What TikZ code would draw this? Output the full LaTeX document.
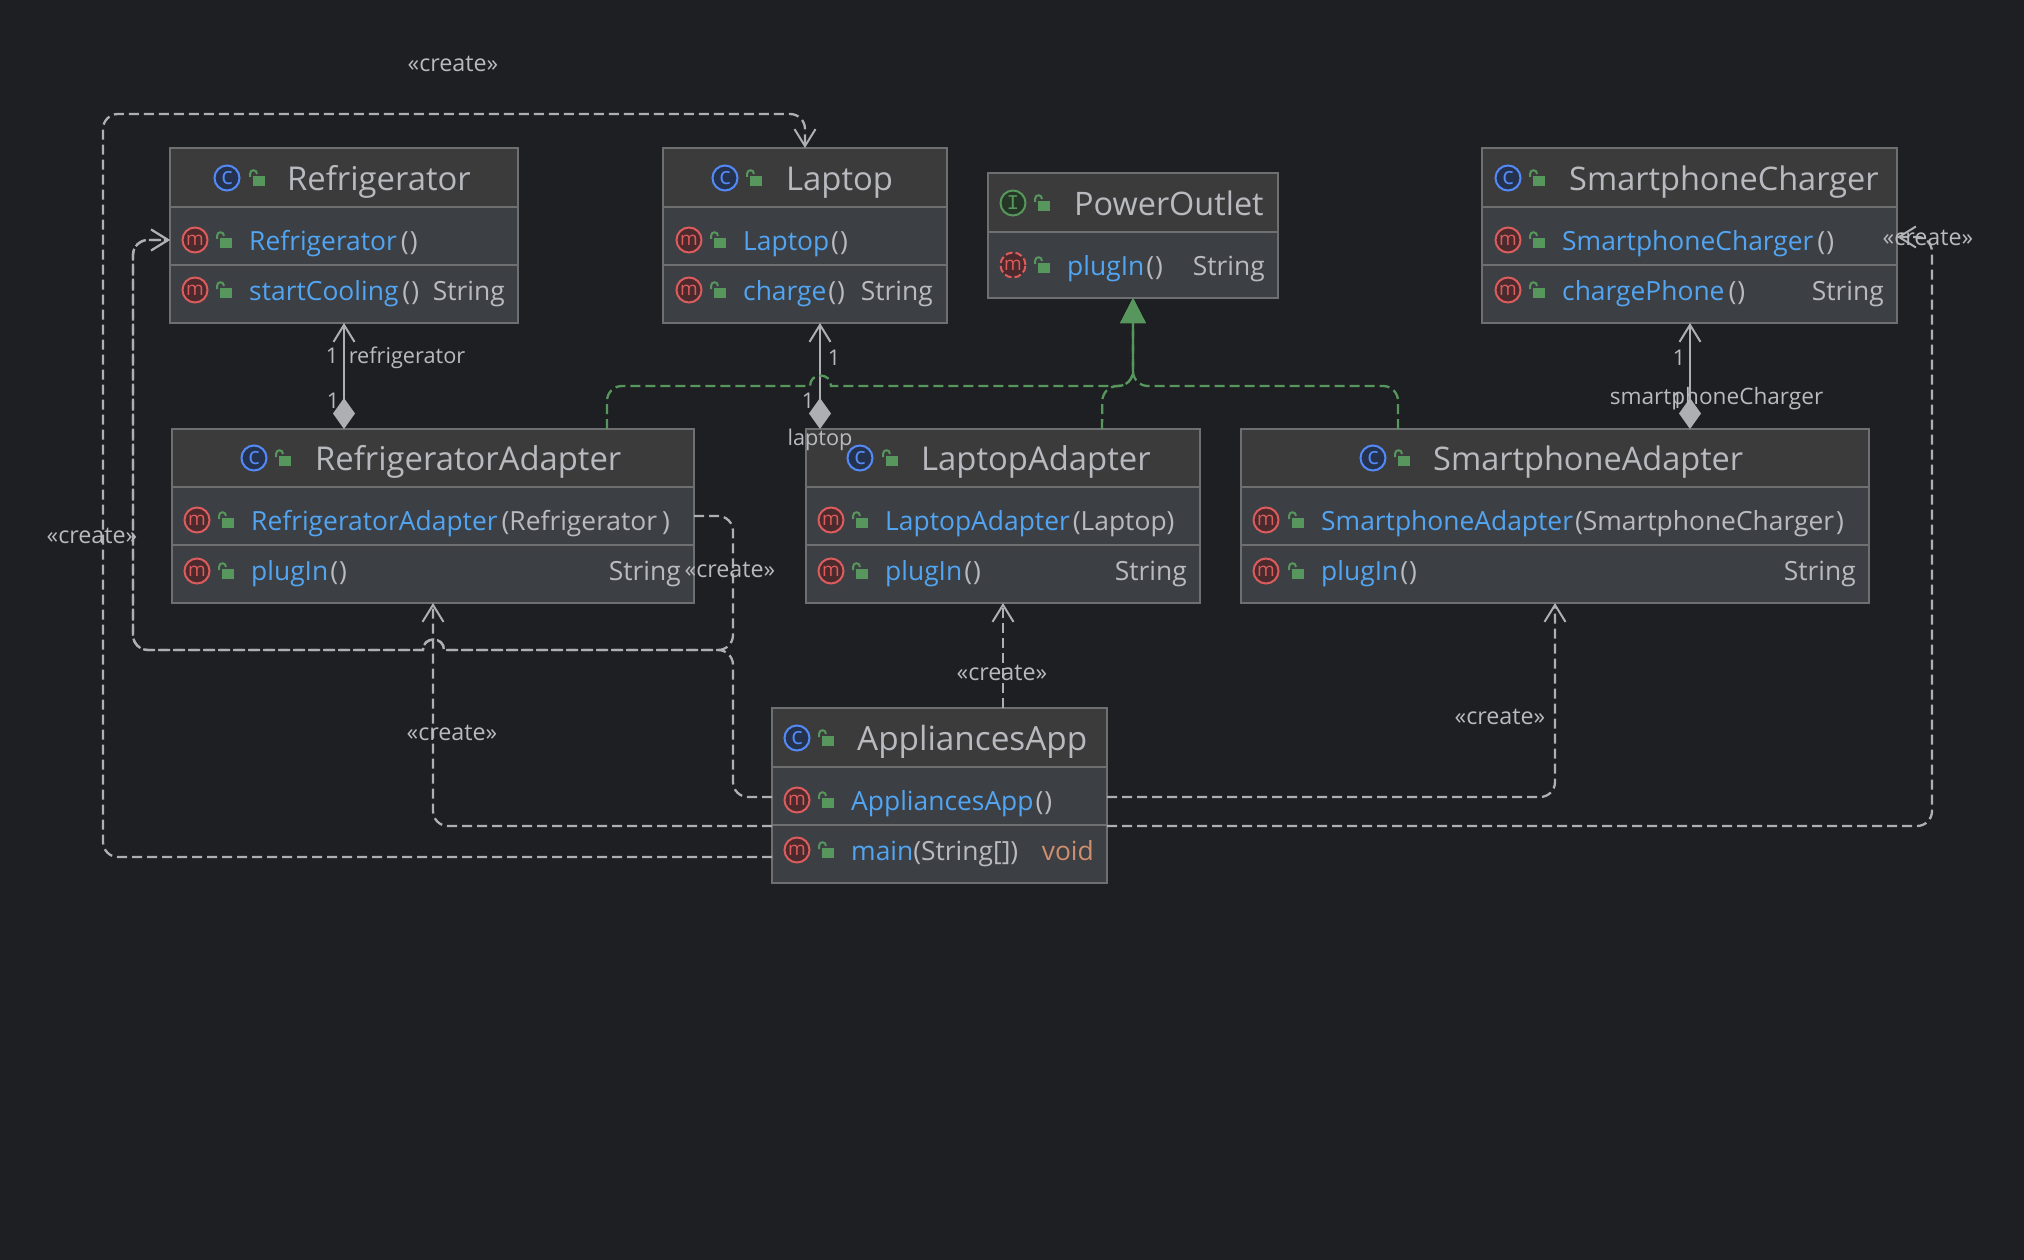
\documentclass[tikz,border=0pt]{standalone}
\usepackage{fontspec}
\setmainfont{Open Sans}
\newfontfamily\monoface{Liberation Mono}
\usetikzlibrary{arrows.meta}
\definecolor{bg}{HTML}{1E1F22}
\definecolor{hdr}{HTML}{3C3B3B}
\definecolor{body}{HTML}{3C3F43}
\definecolor{edge}{HTML}{6E6F71}
\definecolor{txt}{HTML}{B8BABF}
\definecolor{mblue}{HTML}{52A5F2}
\definecolor{kw}{HTML}{CF8E6D}
\definecolor{wire}{HTML}{ADAFB2}
\definecolor{leaf}{HTML}{57965C}
\definecolor{cblue}{HTML}{548AF7}
\definecolor{cbluef}{HTML}{25324D}
\definecolor{mred}{HTML}{DB5C5C}
\definecolor{mredf}{HTML}{4A2A2C}
\definecolor{ifill}{HTML}{253627}
\tikzset{
  umlbox/.style={draw=edge,fill=body,line width=2pt,inner sep=0pt,outer sep=0pt},
  sepline/.style={draw=edge,line width=2pt},
  ico/.style={circle,minimum size=25pt,inner sep=0pt,line width=2pt,font=\fontsize{19}{19}\selectfont},
  icoc/.style={ico,draw=cblue,fill=cbluef,text=cblue,font=\fontsize{24}{24}\selectfont},
  icom/.style={ico,draw=mred,fill=mredf,text=mred},
  icoma/.style={icom,dash pattern=on 7pt off 3pt},
  icoi/.style={ico,draw=leaf,fill=ifill,text=leaf,font=\fontsize{21}{21}\monoface},
  title/.style={anchor=base west,inner sep=0pt,text=txt,font=\fontsize{32.8}{32.8}\selectfont},
  member/.style={anchor=base west,inner sep=0pt,text=mblue,font=\fontsize{26.4}{26.4}\selectfont},
  rtype/.style={anchor=base east,inner sep=0pt,text=txt,font=\fontsize{26.4}{26.4}\selectfont},
  lab/.style={anchor=base,inner sep=0pt,text=txt,font=\fontsize{21.7}{21.7}\selectfont},
  stereo/.style={anchor=base,inner sep=0pt,text=txt,font=\fontsize{23.3}{23.3}\selectfont},
  create/.style={draw=wire,line width=2.3pt,dash pattern=on 10pt off 5pt,rounded corners=15pt,
    -{Straight Barb[length=17pt,width=21pt,line width=2pt]}},
  assoc/.style={draw=wire,line width=2.3pt,
    {Diamond[length=31pt,width=22pt,fill=wire]}-{Straight Barb[length=17pt,width=21pt,line width=2pt]}},
  realize/.style={draw=leaf,line width=2.3pt,dash pattern=on 10pt off 5pt,rounded corners=15pt,
    -{Triangle[length=25pt,width=25pt,fill=leaf]}},
}
\newcommand{\classbox}[6]{%
  \node[umlbox,minimum width={(#4-#2)*1pt},minimum height={(#5-#3)*1pt}] (#1) at ({(#2+#4)/2},{(#3+#5)/2}) {};
  \fill[hdr] (#2,#3) rectangle (#4,#6);
  \draw[sepline] (#2,#6) -- (#4,#6);
  \draw[draw=edge,line width=2pt] (#1.north west) rectangle (#1.south east);
}
\newcommand{\rowsep}[3]{\draw[sepline] (#1,#3) -- (#2,#3);}
\newcommand{\lockicon}[2]{%
  \fill[leaf] ({#1-5},{#2-2}) rectangle ({#1+7},{#2+8});
  \draw[leaf,line width=2pt] ({#1-8},{#2-1}) -- ({#1-8},{#2-4}) .. controls ({#1-8},{#2-9}) and ({#1-1},{#2-9}) .. ({#1-1},{#2-4});
}
% name, style, letter, icon x, lock x, y
\newcommand{\icons}[6]{\node[#2] (#1) at (#4,#6) {#3}; \lockicon{#5}{#6}}
\begin{document}
\begin{tikzpicture}[x=1pt,y=-1pt]
\path[use as bounding box,fill=bg] (0,0) rectangle (2024,1260);

% Refrigerator
\classbox{ref}{170}{148}{518}{323}{207}
\rowsep{170}{518}{265}
\icons{refI}{icoc}{c}{227}{258}{178}
\node[title] (refT) at (287,191) {Refrigerator};
\icons{refA}{icom}{m}{195}{225}{240}
\node[member] (refB) at (249,251) {Refrigerator\hspace{4pt}\textcolor{txt}{(\hspace{1pt})}};
\icons{refC}{icom}{m}{195}{225}{290}
\node[member] (refD) at (249,300) {startCooling\hspace{4pt}\textcolor{txt}{(\hspace{1pt})}};
\node[rtype] (refE) at (505,300) {String};

% Laptop
\classbox{lap}{663}{148}{947}{323}{207}
\rowsep{663}{947}{265}
\icons{lapI}{icoc}{c}{725}{755}{178}
\node[title] (lapT) at (786,191) {Laptop};
\icons{lapA}{icom}{m}{689}{719}{240}
\node[member] (lapB) at (743,251) {Laptop\hspace{2pt}\textcolor{txt}{(\hspace{1pt})}};
\icons{lapC}{icom}{m}{689}{719}{290}
\node[member] (lapD) at (743,300) {charge\hspace{2pt}\textcolor{txt}{(\hspace{1pt})}};
\node[rtype] (lapE) at (933,300) {String};

% PowerOutlet
\classbox{pow}{988}{173}{1278}{298}{232}
\icons{powI}{icoi}{I}{1013}{1043}{203}
\node[title,font=\fontsize{32.4}{32.4}\selectfont] (powT) at (1074,215) {PowerOutlet};
\icons{powA}{icoma}{m}{1013}{1043}{265}
\node[member] (powB) at (1067,275) {plugIn\hspace{2pt}\textcolor{txt}{(\hspace{1pt})}};
\node[rtype] (powE) at (1265,275) {String};

% SmartphoneCharger
\classbox{chg}{1482}{148}{1897}{323}{207}
\rowsep{1482}{1897}{265}
\icons{chgI}{icoc}{c}{1508}{1538}{178}
\node[title,font=\fontsize{32.5}{32.5}\selectfont] (chgT) at (1569,191) {SmartphoneCharger};
\icons{chgA}{icom}{m}{1508}{1538}{240}
\node[member] (chgB) at (1562,251) {SmartphoneCharger\hspace{4pt}\textcolor{txt}{(\hspace{1pt})}};
\icons{chgC}{icom}{m}{1508}{1538}{290}
\node[member] (chgD) at (1562,300) {chargePhone\hspace{4pt}\textcolor{txt}{(\hspace{1pt})}};
\node[rtype] (chgE) at (1884,300) {String};

% RefrigeratorAdapter
\classbox{rad}{172}{429}{694}{603}{487}
\rowsep{172}{694}{545}
\icons{radI}{icoc}{c}{254}{284}{458}
\node[title] (radT) at (315,470) {RefrigeratorAdapter};
\icons{radA}{icom}{m}{197}{227}{520}
\node[member] (radB) at (251,530) {RefrigeratorAdapter\hspace{4pt}\textcolor{txt}{(Refrigerator\hspace{5pt})}};
\icons{radC}{icom}{m}{197}{227}{571}
\node[member] (radD) at (251,580) {plugIn\hspace{2pt}\textcolor{txt}{(\hspace{1pt})}};
\node[rtype] (radE) at (681,580) {String};

% LaptopAdapter
\classbox{lad}{806}{429}{1200}{603}{487}
\rowsep{806}{1200}{545}
\icons{ladI}{icoc}{c}{860}{891}{458}
\node[title] (ladT) at (921,470) {LaptopAdapter};
\icons{ladA}{icom}{m}{831}{861}{520}
\node[member] (ladB) at (885,530) {LaptopAdapter\hspace{3pt}\textcolor{txt}{(Laptop)}};
\icons{ladC}{icom}{m}{831}{861}{571}
\node[member] (ladD) at (885,580) {plugIn\hspace{2pt}\textcolor{txt}{(\hspace{1pt})}};
\node[rtype] (ladE) at (1187,580) {String};

% SmartphoneAdapter
\classbox{sad}{1241}{429}{1869}{603}{487}
\rowsep{1241}{1869}{545}
\icons{sadI}{icoc}{c}{1373}{1403}{458}
\node[title,font=\fontsize{32.5}{32.5}\selectfont] (sadT) at (1433,470) {SmartphoneAdapter};
\icons{sadA}{icom}{m}{1266}{1297}{520}
\node[member] (sadB) at (1321,530) {SmartphoneAdapter\hspace{2pt}\textcolor{txt}{(SmartphoneCharger\hspace{2pt})}};
\icons{sadC}{icom}{m}{1266}{1297}{571}
\node[member] (sadD) at (1321,580) {plugIn\hspace{2pt}\textcolor{txt}{(\hspace{1pt})}};
\node[rtype] (sadE) at (1856,580) {String};

% AppliancesApp
\classbox{app}{772}{708}{1107}{883}{767}
\rowsep{772}{1107}{825}
\icons{appI}{icoc}{c}{797}{827}{738}
\node[title,font=\fontsize{33.3}{33.3}\selectfont] (appT) at (857,750) {AppliancesApp};
\icons{appA}{icom}{m}{797}{827}{800}
\node[member] (appB) at (851,810) {AppliancesApp\hspace{2pt}\textcolor{txt}{(\hspace{1pt})}};
\icons{appC}{icom}{m}{797}{827}{850}
\node[member] (appD) at (851,860) {main\textcolor{txt}{(String[])}};
\node[rtype,text=kw] (appE) at (1094,860) {void};

% dependencies
\draw[create] ([yshift=-61.5pt]app.west) -- (103,857) -- (103,114) -- (805,114) -- (lap.north);
\draw[create] (rad.east) -- (733,516) -- (733,650) -- (465,650) [sharp corners] -- (444,650) .. controls (444,636) and (423,636) .. (423,650) -- (400,650) [rounded corners=15pt] -- (133,650) -- (133,240) -- ([yshift=-4.5pt]ref.west);
\draw[create] ([yshift=-1.5pt]app.west) -- (733,797) -- (733,650) -- (465,650) [sharp corners] -- (444,650) .. controls (444,636) and (423,636) .. (423,650) -- (400,650) [rounded corners=15pt] -- (133,650) -- (133,240) -- ([yshift=-4.5pt]ref.west);
\draw[create] ([yshift=-30.5pt]app.west) -- (433,826) -- (rad.south);
\draw[create] ([yshift=-30.5pt]app.east) -- (1932,826) -- (1932,237) -- ([yshift=-1.5pt]chg.east);
\draw[create] ([yshift=-1.5pt]app.east) -- (1555,797) -- (sad.south);
\draw[create] (app.north-|lad.south) -- (lad.south);

% associations
\draw[assoc] (rad.north-|ref.south) -- (ref.south);
\draw[assoc] ([xshift=-183pt]lad.north) -- ([xshift=15pt]lap.south);
\draw[assoc] ([xshift=135pt]sad.north) -- ([xshift=0.5pt]chg.south);

% realizations
\draw[realize] ([xshift=174pt]rad.north) -- (607,386) -- (780,386) [sharp corners] -- (810,386) .. controls (810,372) and (831,372) .. (831,386) -- (860,386) [rounded corners=15pt] -- (1133,386) -- (pow.south);
\draw[realize] ([xshift=99pt]lad.north) -- (1102.5,386) -- (1133,386) -- (pow.south);
\draw[realize] ([xshift=-157pt]sad.north) -- (1398,386) -- (1133,386) -- (pow.south);

% labels
\node[stereo] (l1) at (453,72) {«create»};
\node[stereo] (l2) at (92,543) {«create»};
\node[stereo] (l3) at (730,577) {«create»};
\node[stereo] (l4) at (452,740) {«create»};
\node[stereo] (l5) at (1002,680) {«create»};
\node[stereo] (l6) at (1500,724) {«create»};
\node[stereo] (l7) at (1928,245) {«create»};
\node[lab] (n1) at (332,363) {1};
\node[lab] (n2) at (407,363) {refrigerator};
\node[lab] (n3) at (333,408) {1};
\node[lab] (n4) at (834,365) {1};
\node[lab] (n5) at (808,408) {1};
\node[lab] (n6) at (820,445) {laptop};
\node[lab] (n7) at (1679,365) {1};
\node[lab] (n8) at (1677,408) {1};
\node[lab,font=\fontsize{22.6}{22.6}\selectfont] (n9) at (1716.5,404) {smartphoneCharger};
\end{tikzpicture}
\end{document}
